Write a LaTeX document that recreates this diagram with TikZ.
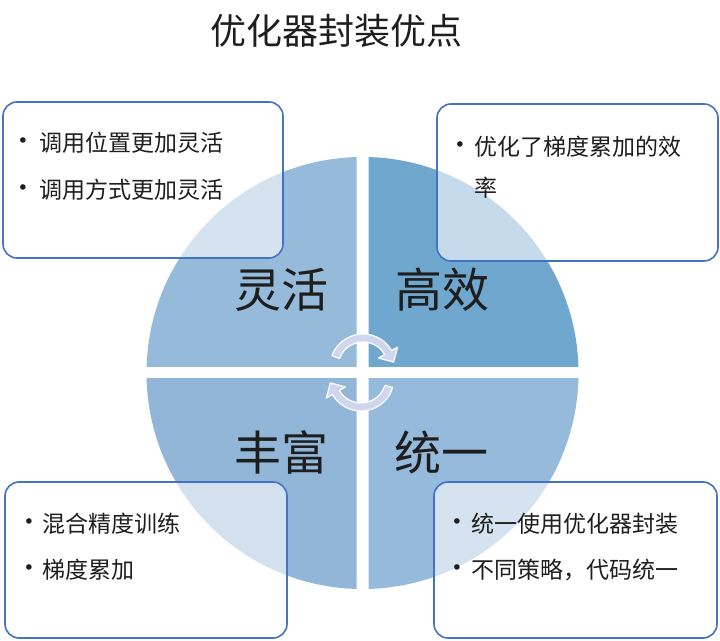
\documentclass[tikz,border=0pt]{standalone}
\usepackage{fontspec}
\setmainfont{Noto Sans CJK SC}
\newfontfamily\bulletfont{DejaVu Sans}
\usetikzlibrary{calc}
\definecolor{qtl}{RGB}{150,186,218}
\definecolor{qtr}{RGB}{112,167,207}
\definecolor{qbl}{RGB}{146,182,216}
\definecolor{qbr}{RGB}{150,186,219}
\definecolor{boxblue}{RGB}{68,114,196}
\definecolor{arrowfill}{RGB}{208,214,238}
\definecolor{textdark}{RGB}{30,30,30}
\begin{document}
\begin{tikzpicture}[x=1pt,y=1pt,
  box/.style={draw=boxblue, line width=1.6pt, rounded corners=14pt, fill=white, fill opacity=0.6, text opacity=1, inner sep=0pt},
  item/.style={anchor=west, inner sep=0pt, font=\fontsize{23}{28}\selectfont, text=textdark},
  bul/.style={inner sep=0pt, font=\bulletfont\fontsize{19}{22}\selectfont, text=textdark},
  quadlabel/.style={inner sep=0pt, font=\fontsize{47}{56}\selectfont, text=textdark},
  arrowshape/.style={fill=arrowfill, draw=white, line width=1.2pt, line join=round}]
\useasboundingbox (0,0) rectangle (720,640);
\fill[white] (0,0) rectangle (720,640);

% title
\node[inner sep=0pt, font=\fontsize{36}{42}\selectfont, text=textdark] (title) at (336,609) {优化器封装优点};

% quadrants
\coordinate (cc) at (362.5,267);
\begin{scope}
  \clip (0,273) rectangle (356.5,640);
  \fill[qtl] (cc) circle[radius=216];
\end{scope}
\begin{scope}
  \clip (368.5,273) rectangle (720,640);
  \fill[qtr] (cc) circle[radius=216];
\end{scope}
\begin{scope}
  \clip (0,0) rectangle (356.5,261);
  \fill[qbl] (cc) circle[radius=216];
\end{scope}
\begin{scope}
  \clip (368.5,0) rectangle (720,261);
  \fill[qbr] (cc) circle[radius=216];
\end{scope}

% circular arrows
\coordinate (ca) at (363,273);
\draw[arrowshape] ($(ca)+(160:33)$) arc[start angle=160, end angle=30, radius=33]
  -- ($(ca)+(30:40)$) -- ($(ca)+(9:31)$) -- ($(ca)+(30:18)$) -- ($(ca)+(30:25)$)
  arc[start angle=30, end angle=160, radius=25] -- cycle;
\coordinate (cb) at (361,262);
\draw[arrowshape] ($(cb)+(-17:33)$) arc[start angle=-17, end angle=-150, radius=33]
  -- ($(cb)+(-150:40)$) -- ($(cb)+(189:31)$) -- ($(cb)+(-150:18)$) -- ($(cb)+(-150:25)$)
  arc[start angle=-150, end angle=-17, radius=25] -- cycle;

% quadrant labels
\node[quadlabel] (lTL) at (281,350) {灵活};
\node[quadlabel] (lTR) at (442,350) {高效};
\node[quadlabel] (lBL) at (281,188) {丰富};
\node[quadlabel] (lBR) at (441,188) {统一};

% boxes
\node[box, minimum width=280pt, minimum height=156pt] (boxTL) at (143,460) {};
\node[box, minimum width=281pt, minimum height=157pt] (boxTR) at (577.5,457.5) {};
\node[box, minimum width=282pt, minimum height=156pt] (boxBL) at (146,80) {};
\node[box, minimum width=283pt, minimum height=156pt] (boxBR) at (575.5,80) {};

% box texts
\node[bul] (bTL1) at (23,497) {•};
\node[item] (tTL1) at (39,497) {调用位置更加灵活};
\node[bul] (bTL2) at (23,450) {•};
\node[item] (tTL2) at (39,450) {调用方式更加灵活};

\node[bul] (bTR1) at (460,493) {•};
\node[item] (tTR1) at (474,493) {优化了梯度累加的效};
\node[item] (tTR2) at (474,452) {率};

\node[bul] (bBL1) at (29,116) {•};
\node[item] (tBL1) at (42,116) {混合精度训练};
\node[bul] (bBL2) at (29,70) {•};
\node[item] (tBL2) at (42,70) {梯度累加};

\node[bul] (bBR1) at (457,116) {•};
\node[item] (tBR1) at (471,116) {统一使用优化器封装};
\node[bul] (bBR2) at (457,70) {•};
\node[item] (tBR2) at (471,70) {不同策略，代码统一};
\end{tikzpicture}
\end{document}
